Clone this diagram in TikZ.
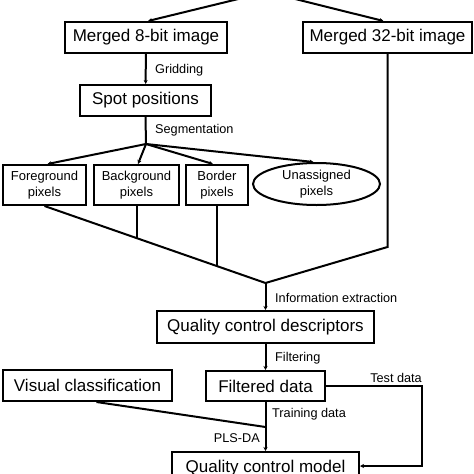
\documentclass[tikz,border=0pt]{standalone}
\usepackage{fontspec}
\setmainfont{Liberation Sans}
\usetikzlibrary{arrows.meta,shapes.geometric,calc}
\tikzset{
  big/.style={draw,line width=2pt,inner sep=0pt,font=\fontsize{17}{20}\selectfont},
  small/.style={draw,line width=2pt,inner sep=0pt,align=center,font=\fontsize{13}{16.5}\selectfont},
  lbl/.style={inner sep=0pt,font=\fontsize{12.7}{15}\selectfont},
  conn/.style={line width=2pt},
  arr/.style={line width=2pt,-{Stealth[length=4pt,width=4pt]}},
}
\begin{document}
\begin{tikzpicture}[x=1pt,y=-1pt]
\clip (0,0) rectangle (474,474);
\fill[white] (0,0) rectangle (474,474);
% boxes
\node[big,minimum width=162pt,minimum height=31pt] (m8) at (146,37.5) {Merged 8-bit image};
\node[big,minimum width=169pt,minimum height=31pt] (m32) at (387.5,37.5) {Merged 32-bit image};
\node[big,minimum width=131pt,minimum height=31pt] (sp) at (145.5,100.5) {Spot positions};
\node[small,minimum width=83pt,minimum height=40pt] (fg) at (44.5,185) {Foreground\\pixels};
\node[small,minimum width=85pt,minimum height=40pt] (bg) at (136.5,185) {Background\\pixels};
\node[small,minimum width=62pt,minimum height=40pt] (bd) at (217,185) {Border\\pixels};
\node[small,ellipse,minimum width=127pt,minimum height=42pt] (un) at (316.5,184) {Unassigned\\pixels};
\node[big,minimum width=217pt,minimum height=32pt] (qcd) at (265.5,327) {Quality control descriptors};
\node[big,minimum width=119pt,minimum height=30pt] (fd) at (265.5,386) {Filtered data};
\node[big,minimum width=169pt,minimum height=31pt] (vc) at (87.5,385.5) {Visual classification};
\node[big,minimum width=187pt,minimum height=32pt] (qcm) at (265.5,468) {Quality control model};
% coordinates
\coordinate (src) at (267,-8);
\coordinate (seg) at (146,144);
\coordinate (junc) at (265.5,283);
\coordinate (mb) at (136.5,237.5);
\coordinate (md) at (217,266);
\coordinate (r32) at (387.5,247);
\coordinate (tr) at (422,386);
\coordinate (trb) at (422,466);
\coordinate (pls) at (265.5,427);
% connectors
\draw[arr] (src) -- ([xshift=2pt]m8.north);
\draw[arr] (src) -- ([xshift=-4pt]m32.north);
\draw[arr] (m8) -- (sp);
\draw[conn] (sp.south) -- (seg);
\draw[arr] (seg) -- ([xshift=3pt]fg.north);
\draw[arr] (seg) -- ([xshift=1.5pt]bg.north);
\draw[arr] (seg) -- ([xshift=-4pt]bd.north);
\draw[arr] (seg) -- ([xshift=-3pt]un.north);
\draw[conn] (fg.south) -- (junc);
\draw[conn] (bg.south) -- (mb);
\draw[conn] (bd.south) -- (md);
\draw[conn] (m32.south) -- (r32) -- (junc);
\draw[arr] (junc) -- (qcd.north);
\draw[arr] (qcd) -- (fd);
\draw[arr] (fd) -- (qcm);
\draw[conn] ([xshift=9pt]vc.south) -- (pls);
\draw[arr] (fd.east) -- (tr) -- (trb) -- (qcm.east |- trb);
% labels
\node[lbl,anchor=west] (lg) at (155,70) {Gridding};
\node[lbl,anchor=west] (ls) at (155,130) {Segmentation};
\node[lbl,anchor=west] (li) at (275,298) {Information extraction};
\node[lbl,anchor=west] (lf) at (275,358) {Filtering};
\node[lbl,anchor=east] (lt) at (422,378) {Test data};
\node[lbl,anchor=west] (ltr) at (272,414) {Training data};
\node[lbl,anchor=east] (lp) at (260,438) {PLS-DA};
\end{tikzpicture}
\end{document}
